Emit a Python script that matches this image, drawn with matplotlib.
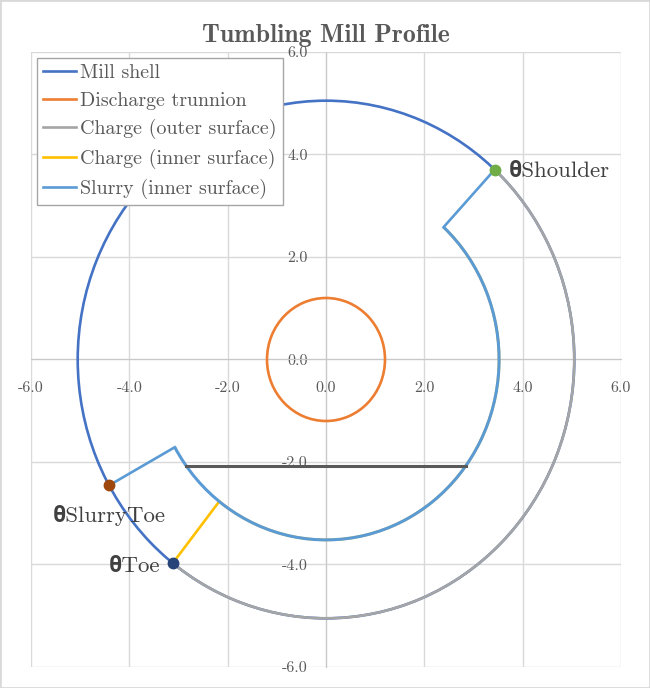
import numpy as np
import matplotlib
matplotlib.use("Agg")
import matplotlib.pyplot as plt
from matplotlib.patches import Arc, Rectangle
from matplotlib.lines import Line2D

# Geometrie du broyeur
mill_radius = 5.05
trunnion_radius = 1.2
inner_radius = 3.52
slurry_level = -2.08

# Angles (degres, sens trigo depuis +x)
theta_shoulder = 47.2
theta_toe = 231.9
theta_slurry_toe = 209.1

ticks = [-6, -4, -2, 0, 2, 4, 6]
tick_labels = ["-6.0", "-4.0", "-2.0", "0.0", "2.0", "4.0", "6.0"]

series_names = ["Mill shell", "Discharge trunnion", "Charge (outer surface)",
                "Charge (inner surface)", "Slurry (inner surface)"]
series_colors = ["#4472C4", "#ED7D31", "#A5A5A5", "#FFC000", "#5B9BD5"]

point_names = ["\u03b8Shoulder", "\u03b8SlurryToe", "\u03b8Toe"]
point_angles = [theta_shoulder, theta_slurry_toe, theta_toe]
point_colors = ["#70AD47", "#9E480E", "#264478"]

plt.rcParams['font.family'] = ['cmr10', 'DejaVu Sans']
plt.rcParams['axes.unicode_minus'] = False


def polar(r, deg):
    a = np.deg2rad(deg)
    return r * np.cos(a), r * np.sin(a)


fig = plt.figure(figsize=(6.5, 6.88), dpi=100)
ax = fig.add_axes([31 / 650, 1 - 667 / 688, 590 / 650, 615 / 688])
lw = 1.9

# Mill shell
ax.add_patch(Arc((0, 0), 2 * mill_radius, 2 * mill_radius, theta1=0, theta2=360,
                 color=series_colors[0], lw=lw, zorder=3))
# Discharge trunnion
ax.add_patch(Arc((0, 0), 2 * trunnion_radius, 2 * trunnion_radius, theta1=0, theta2=360,
                 color=series_colors[1], lw=lw, zorder=3))
# Charge outer surface
ax.add_patch(Arc((0, 0), 2 * mill_radius, 2 * mill_radius, theta1=theta_toe,
                 theta2=theta_shoulder, color=series_colors[2], lw=lw, zorder=4))
# Charge inner surface
x0, y0 = polar(mill_radius, theta_toe)
x1, y1 = polar(inner_radius, theta_toe)
ax.plot([x0, x1], [y0, y1], color=series_colors[3], lw=lw, zorder=5)
ax.add_patch(Arc((0, 0), 2 * inner_radius, 2 * inner_radius, theta1=theta_toe,
                 theta2=theta_shoulder, color=series_colors[3], lw=lw, zorder=5))
# Slurry inner surface
x0, y0 = polar(mill_radius, theta_slurry_toe)
x1, y1 = polar(inner_radius, theta_slurry_toe)
ax.plot([x0, x1], [y0, y1], color=series_colors[4], lw=lw, zorder=6)
ax.add_patch(Arc((0, 0), 2 * inner_radius, 2 * inner_radius, theta1=theta_slurry_toe,
                 theta2=theta_shoulder, color=series_colors[4], lw=lw + 0.3, zorder=6))
x0, y0 = polar(inner_radius, theta_shoulder)
x1, y1 = polar(mill_radius, theta_shoulder)
ax.plot([x0, x1], [y0, y1], color=series_colors[4], lw=lw, zorder=6)

# Niveau de la pulpe
half = np.sqrt(inner_radius ** 2 - slurry_level ** 2)
ax.plot([-half, half], [slurry_level, slurry_level], color="#595959", lw=2.2, zorder=7)

# Points caracteristiques
offsets = [((10, -1), 'left', 'center'), ((0, -22), 'center', 'center'),
           ((-9, -2), 'right', 'center')]
for name, ang, col, (off, ha, va) in zip(point_names, point_angles, point_colors, offsets):
    px, py = polar(mill_radius, ang)
    ax.plot(px, py, 'o', color=col, ms=7.5, zorder=8)
    ax.annotate(name, (px, py), xytext=off, textcoords='offset points', ha=ha, va=va,
                fontsize=16.5, color="#404040", family=['cmr10', 'Roboto'],
                fontweight='bold', zorder=9)

# Axes
ax.set_xlim(-6, 6)
ax.set_ylim(-6, 6)
ax.set_xticks(ticks)
ax.set_yticks(ticks)
ax.set_xticklabels(tick_labels)
ax.set_yticklabels(tick_labels)
ax.grid(True, color="#D9D9D9", lw=1)
ax.set_axisbelow(True)
for side in ['top', 'right']:
    ax.spines[side].set_visible(False)
for side in ['left', 'bottom']:
    ax.spines[side].set_position('zero')
    ax.spines[side].set_color("#C8C8C8")
    ax.spines[side].set_zorder(1)
ax.tick_params(axis='both', length=0, labelsize=11.5, labelcolor="#595959")
ax.tick_params(axis='x', pad=16)
ax.tick_params(axis='y', pad=13)

ax.set_title("Tumbling Mill Profile", family='cmb10', fontweight='bold',
             fontsize=18.5, color="#595959", pad=7)

handles = [Line2D([], [], color=c, lw=lw) for c in series_colors]
leg = ax.legend(handles, series_names, loc='upper left',
                bbox_to_anchor=(6 / 590, 1 - 6 / 615), borderaxespad=0,
                fontsize=14.4, labelcolor="#595959", fancybox=False,
                edgecolor="#A6A6A6", framealpha=1, handlelength=1.65,
                handletextpad=0.2, borderpad=0.3, labelspacing=0.48)
leg.get_frame().set_linewidth(1)
leg.set_zorder(10)

fig.patches.append(Rectangle((0, 0), 1, 1, transform=fig.transFigure, fill=False,
                             edgecolor="#D9D9D9", lw=2))

plt.savefig("out.png", dpi=100)
